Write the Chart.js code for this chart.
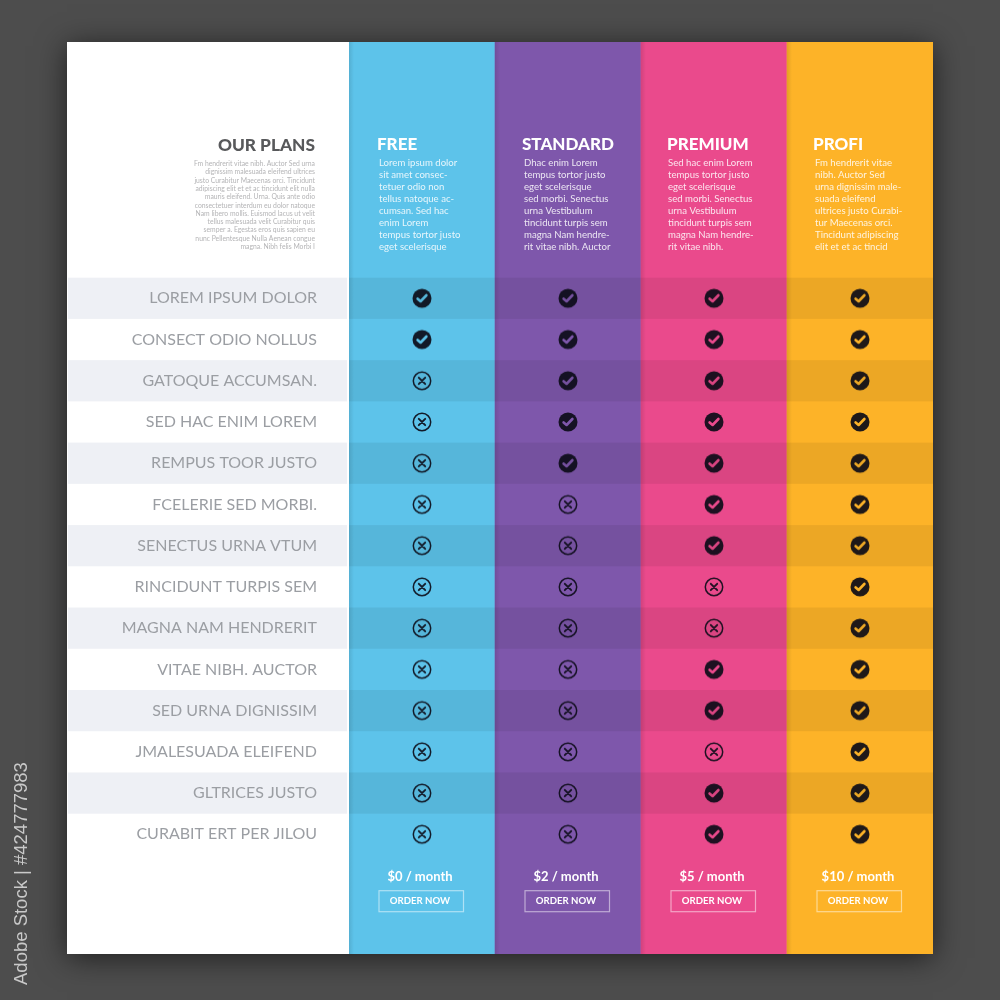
<!DOCTYPE html>
<html>
<head>
<meta charset="utf-8">
<title>Our plans</title>
<style>
	html, body { margin: 0; padding: 0; background: #4d4d4d; }
	canvas { display: block; }
</style>
<script src="https://cdn.jsdelivr.net/npm/chart.js@4"></script>
</head>
<body>
<canvas id="myChart" width="1000" height="1000"></canvas>
<script>
const planNames = ["FREE", "STANDARD", "PREMIUM", "PROFI"];
const planColors = ["#5dc3ea", "#7e57ab", "#ea4a8c", "#fdb328"];
const planPrices = ["$0 / month", "$2 / month", "$5 / month", "$10 / month"];
const orderLabel = "ORDER NOW";

const rowLabels = [
	"LOREM IPSUM DOLOR", "CONSECT ODIO NOLLUS", "GATOQUE ACCUMSAN.", "SED HAC ENIM LOREM",
	"REMPUS TOOR JUSTO", "FCELERIE SED MORBI.", "SENECTUS URNA VTUM", "RINCIDUNT TURPIS SEM",
	"MAGNA NAM HENDRERIT", "VITAE NIBH. AUCTOR", "SED URNA DIGNISSIM", "JMALESUADA ELEIFEND",
	"GLTRICES JUSTO", "CURABIT ERT PER JILOU"
];

// 1 = check, 0 = cross, one value per row
const freeValues = [1, 1, 0, 0, 0, 0, 0, 0, 0, 0, 0, 0, 0, 0];
const standardValues = [1, 1, 1, 1, 1, 0, 0, 0, 0, 0, 0, 0, 0, 0];
const premiumValues = [1, 1, 1, 1, 1, 1, 1, 0, 0, 1, 1, 0, 1, 1];
const profiValues = [1, 1, 1, 1, 1, 1, 1, 1, 1, 1, 1, 1, 1, 1];

const introTitle = "OUR PLANS";
const introLines = [
	"Fm hendrerit vitae nibh. Auctor Sed urna",
	"dignissim malesuada eleifend ultrices",
	"justo Curabitur Maecenas orci. Tincidunt",
	"adipiscing elit et et ac tincidunt elit nulla",
	"mauris eleifend. Urna. Quis ante odio",
	"consectetuer interdum eu dolor natoque",
	"Nam libero mollis. Euismod lacus ut velit",
	"tellus malesuada velit Curabitur quis",
	"semper a. Egestas eros quis sapien eu",
	"nunc Pellentesque Nulla Aenean congue",
	"magna. Nibh felis Morbi I"
];

const freeText = ["Lorem ipsum dolor", "sit amet consec-", "tetuer odio non", "tellus natoque ac-", "cumsan. Sed hac", "enim Lorem", "tempus tortor justo", "eget scelerisque"];
const standardText = ["Dhac enim Lorem", "tempus tortor justo", "eget scelerisque", "sed morbi. Senectus", "urna Vestibulum", "tincidunt turpis sem", "magna Nam hendre-", "rit vitae nibh. Auctor"];
const premiumText = ["Sed hac enim Lorem", "tempus tortor justo", "eget scelerisque", "sed morbi. Senectus", "urna Vestibulum", "tincidunt turpis sem", "magna Nam hendre-", "rit vitae nibh."];
const profiText = ["Fm hendrerit vitae", "nibh. Auctor Sed", "urna dignissim male-", "suada eleifend", "ultrices justo Curabi-", "tur Maecenas orci.", "Tincidunt adipiscing", "elit et et ac tincid"];

const creditText = "Adobe Stock | #424777983";

const planValues = [freeValues, standardValues, premiumValues, profiValues];
const planTexts = [freeText, standardText, premiumText, profiText];
const yMin = -6.216;
const yMax = 15.903;
const fontName = "Lato";

function makeIcon(checked){
	let c = document.createElement("canvas");
	c.width = 22;
	c.height = 22;
	let g = c.getContext("2d");
	g.lineCap = "round";
	g.lineJoin = "round";
	if(checked){
		g.fillStyle = "rgba(12,12,24,0.92)";
		g.beginPath();
		g.arc(11, 11, 9.5, 0, Math.PI * 2);
		g.fill();
		g.globalCompositeOperation = "destination-out";
		g.lineWidth = 2.6;
		g.beginPath();
		g.moveTo(6.6, 11.4);
		g.lineTo(9.6, 14);
		g.lineTo(15.4, 8);
		g.stroke();
	}else{
		g.strokeStyle = "rgba(12,12,24,0.92)";
		g.lineWidth = 1.5;
		g.beginPath();
		g.arc(11, 11, 8.7, 0, Math.PI * 2);
		g.stroke();
		g.lineWidth = 1.9;
		g.beginPath();
		g.moveTo(7.8, 7.8);
		g.lineTo(14.2, 14.2);
		g.moveTo(14.2, 7.8);
		g.lineTo(7.8, 14.2);
		g.stroke();
	}
	return c;
}

function pointsFor(state){
	let points = [];
	planNames.forEach((plan, p) => {
		planValues[p].forEach((value, row) => {
			if(value === state){
				points.push({x: plan, y: row});
			}
		});
	});
	return points;
}

function putText(ctx, text, x, y, font, color, align){
	ctx.font = font;
	ctx.fillStyle = color;
	ctx.textAlign = align || "left";
	ctx.textBaseline = "middle";
	ctx.fillText(text, x, y);
}

// white panel, page shadow and the row bands of the left side
const backPanel = {
	id: "backPanel",
	beforeDraw(chart){
		let ctx = chart.ctx;
		let area = chart.chartArea;
		let yScale = chart.scales.y;
		let rowH = yScale.getPixelForValue(1) - yScale.getPixelForValue(0);
		ctx.save();
		ctx.fillStyle = "#4d4d4d";
		ctx.fillRect(0, 0, chart.width, chart.height);
		ctx.save();
		ctx.shadowColor = "rgba(0,0,0,0.6)";
		ctx.shadowBlur = 28;
		ctx.shadowOffsetY = 4;
		ctx.fillStyle = "#222";
		ctx.fillRect(yScale.left, area.top, area.right - yScale.left, area.bottom - area.top);
		ctx.restore();
		ctx.fillStyle = "#ffffff";
		ctx.fillRect(yScale.left, area.top, area.left - yScale.left, area.bottom - area.top);
		ctx.fillStyle = "#eef0f5";
		rowLabels.forEach((label, row) => {
			if(row % 2 === 0){
				ctx.fillRect(yScale.left + 1, yScale.getPixelForValue(row) - rowH / 2, area.left - yScale.left - 3, rowH);
			}
		});
		ctx.restore();
	}
};

// soft edge shadows and row bands over the coloured columns, under the icons
const columnBands = {
	id: "columnBands",
	afterDatasetDraw(chart, args){
		if(args.index !== 2){
			return;
		}
		let ctx = chart.ctx;
		let area = chart.chartArea;
		let xScale = chart.scales.x;
		let yScale = chart.scales.y;
		let rowH = yScale.getPixelForValue(1) - yScale.getPixelForValue(0);
		let colW = xScale.getPixelForValue(1) - xScale.getPixelForValue(0);
		ctx.save();
		ctx.fillStyle = "rgba(0,0,0,0.065)";
		rowLabels.forEach((label, row) => {
			if(row % 2 === 0){
				ctx.fillRect(area.left, yScale.getPixelForValue(row) - rowH / 2, area.right - area.left, rowH);
			}
		});
		planNames.forEach((plan, p) => {
			let left = xScale.getPixelForValue(p) - colW / 2;
			let shade = ctx.createLinearGradient(left, 0, left + 5, 0);
			shade.addColorStop(0, "rgba(0,0,0,0.1)");
			shade.addColorStop(1, "rgba(0,0,0,0)");
			ctx.fillStyle = shade;
			ctx.fillRect(left, area.top, 5, area.bottom - area.top);
		});
		ctx.restore();
	}
};

const pageText = {
	id: "pageText",
	afterDraw(chart){
		let ctx = chart.ctx;
		let xScale = chart.scales.x;
		let nameShift = [-45, -46, -47, -47];
		let textShift = [-43, -44, -46, -45];
		ctx.save();
		putText(ctx, introTitle, 315, 145, "900 17.3px " + fontName, "#58595b", "right");
		introLines.forEach((line, i) => {
			putText(ctx, line, 315, 164 + i * 8.27, "6.8px " + fontName, "#b4b4b6", "right");
		});
		planNames.forEach((plan, p) => {
			let center = xScale.getPixelForValue(p);
			putText(ctx, plan, center + nameShift[p], 144.5, "900 17px " + fontName, "#ffffff");
			planTexts[p].forEach((line, i) => {
				putText(ctx, line, center + textShift[p], 163 + i * 12, "9.6px " + fontName, "rgba(255,255,255,0.85)");
			});
			putText(ctx, planPrices[p], center - 2, 877, "700 13px " + fontName, "#ffffff", "center");
			ctx.strokeStyle = "rgba(255,255,255,0.5)";
			ctx.lineWidth = 1.2;
			ctx.strokeRect(center - 43, 890.7, 84.5, 21);
			putText(ctx, orderLabel, center - 2, 901, "700 9.6px " + fontName, "#ffffff", "center");
		});
		ctx.translate(22, 985);
		ctx.rotate(-Math.PI / 2);
		putText(ctx, creditText, 0, 0, "18.5px 'Liberation Sans'", "#c9c9c9");
		ctx.restore();
	}
};

var ctx = document.getElementById("myChart").getContext("2d");
var myChart = new Chart(ctx, {
	data: {
		labels: planNames,
		datasets: [
			{
				type: "line",
				label: "Included",
				data: pointsFor(1),
				showLine: false,
				pointStyle: makeIcon(true),
				pointRadius: 11,
				order: 1
			},
			{
				type: "line",
				label: "Not included",
				data: pointsFor(0),
				showLine: false,
				pointStyle: makeIcon(false),
				pointRadius: 11,
				order: 1
			},
			{
				type: "bar",
				label: "Plans",
				data: planNames.map(() => [yMin, yMax]),
				backgroundColor: planColors,
				categoryPercentage: 1,
				barPercentage: 1,
				order: 2
			}
		]
	},
	options: {
		responsive: false,
		animation: false,
		devicePixelRatio: 1,
		events: [],
		layout: { padding: { left: 67, right: 67, top: 42, bottom: 46 } },
		plugins: {
			legend: { display: false },
			tooltip: { enabled: false }
		},
		scales: {
			x: {
				type: "category",
				display: false,
				offset: true
			},
			y: {
				type: "linear",
				min: yMin,
				max: yMax,
				reverse: true,
				grid: { display: false },
				border: { display: false },
				afterBuildTicks(scale){
					scale.ticks = rowLabels.map((label, i) => ({value: i}));
				},
				afterFit(scale){
					scale.width = 282;
				},
				ticks: {
					autoSkip: false,
					padding: 24,
					color: "#9b9ea3",
					font: { family: fontName, size: 16 },
					callback: value => rowLabels[value]
				}
			}
		}
	},
	plugins: [backPanel, columnBands, pageText]
});
</script>
</body>
</html>
